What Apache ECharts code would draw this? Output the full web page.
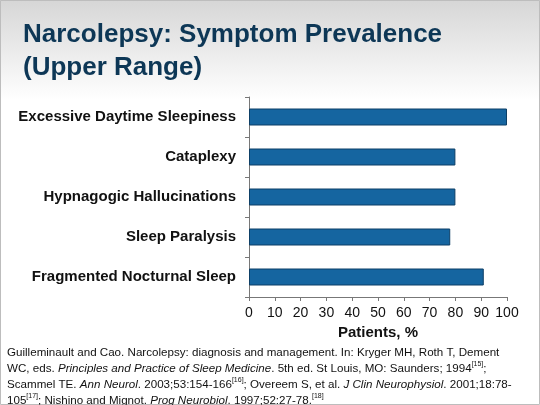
<!DOCTYPE html>
<html>
<head>
<meta charset="utf-8">
<script src="https://cdn.jsdelivr.net/npm/echarts@6/dist/echarts.min.js"></script>
<style>
  html, body { margin: 0; padding: 0; background: #fff; }
  #chart { width: 540px; height: 405px; }
</style>
</head>
<body>
<div id="chart"></div>
<script>
const symptoms = [
  "Excessive Daytime Sleepiness",
  "Cataplexy",
  "Hypnagogic Hallucinations",
  "Sleep Paralysis",
  "Fragmented Nocturnal Sleep",
];
const patientsPct = [100, 80, 80, 78, 91];
const xTicks = [0, 10, 20, 30, 40, 50, 60, 70, 80, 90, 100];

const footer = [
  "Guilleminault and Cao. Narcolepsy: diagnosis and management. In: Kryger MH, Roth T, Dement",
  "WC, eds. {i|Principles and Practice of Sleep Medicine}. 5th ed. St Louis, MO: Saunders; 1994{sup|[15]};",
  "Scammel TE. {i|Ann Neurol}. 2003;53:154-166{sup|[16]}; Overeem S, et al. {i|J Clin Neurophysiol}. 2001;18:78-",
  "105{sup|[17]}; Nishino and Mignot. {i|Prog Neurobiol}. 1997;52:27-78.{sup|[18]}",
].join("\n");

const chart = echarts.init(document.getElementById("chart"));
const option = {
  animation: false,
  textStyle: { fontFamily: "Liberation Sans, Arial, sans-serif" },
  graphic: [
    {
      type: "rect",
      z: -10,
      shape: { x: 0, y: 0, width: 540, height: 100 },
      style: {
        fill: new echarts.graphic.LinearGradient(0, 0, 0, 1, [
          { offset: 0, color: "#d6d6d6" },
          { offset: 1, color: "#ffffff" },
        ]),
      },
    },
    {
      type: "rect",
      z: -5,
      shape: { x: 0.5, y: 0.5, width: 539, height: 404 },
      style: { fill: null, stroke: "#bdbdbd", lineWidth: 1 },
    },
  ],
  title: [
    {
      text: "Narcolepsy: Symptom Prevalence\n(Upper Range)",
      left: 23,
      top: 18,
      padding: 0,
      textStyle: {
        fontSize: 26,
        fontWeight: "bold",
        color: "#0d3756",
        lineHeight: 33,
      },
    },
    {
      text: footer,
      left: 7,
      top: 345,
      padding: 0,
      textStyle: {
        fontSize: 11.6,
        fontWeight: "normal",
        color: "#111",
        lineHeight: 16,
        rich: {
          i: { fontSize: 11.6, fontStyle: "italic", color: "#111", lineHeight: 16 },
          sup: { fontSize: 7, color: "#111", verticalAlign: "top", lineHeight: 16, padding: [0, 0, 5, 0] },
        },
      },
    },
  ],
  grid: { left: 249, right: 33, top: 97, bottom: 108 },
  xAxis: {
    type: "value",
    min: 0,
    max: 100,
    interval: 10,
    name: "Patients, %",
    nameLocation: "middle",
    nameGap: 28,
    nameTextStyle: { fontSize: 15, fontWeight: "bold", color: "#111" },
    axisLine: { show: true, lineStyle: { color: "#777", width: 1 } },
    axisTick: { show: true, length: 4, lineStyle: { color: "#777" } },
    axisLabel: {
      fontSize: 14,
      color: "#111",
      margin: 9,
      formatter: (v) => (xTicks.includes(v) ? String(v) : ""),
    },
    splitLine: { show: false },
  },
  yAxis: {
    type: "category",
    data: symptoms,
    inverse: true,
    axisLine: { show: true, lineStyle: { color: "#777", width: 1 } },
    axisTick: { show: true, length: 4, lineStyle: { color: "#777" } },
    axisLabel: { fontSize: 15, fontWeight: "bold", color: "#111", margin: 13 },
  },
  series: [
    {
      type: "bar",
      data: patientsPct,
      barWidth: 17,
      itemStyle: { color: "#1565a0", borderColor: "#0d3f66", borderWidth: 1 },
    },
  ],
};
chart.setOption(option);
</script>
</body>
</html>
